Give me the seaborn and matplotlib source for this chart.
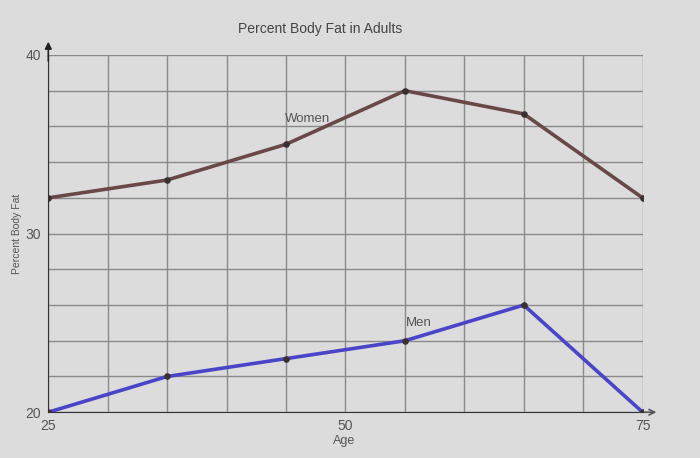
import matplotlib
matplotlib.use("Agg")
import matplotlib.pyplot as plt
import seaborn as sns
import pandas as pd

# data
ages = [25, 35, 45, 55, 65, 75]
women = [32, 33, 35, 38, 36.7, 32]
men = [20, 22, 23, 24, 26, 20]

x_ticks = [25, 50, 75]
y_ticks = [20, 30, 40]

df = pd.DataFrame({"Age": ages * 2,
                   "Fat": women + men,
                   "Group": ["Women"] * len(ages) + ["Men"] * len(ages)})

sns.set_style("white")
plt.rcParams['font.family'] = ['Liberation Sans', 'DejaVu Sans']

fig = plt.figure(figsize=(7, 4.58), dpi=100)
fig.patch.set_facecolor("#dcdcdc")
ax = fig.add_axes([0.069, 0.100, 0.849, 0.780])
ax.set_facecolor("#dcdcdc")

# grid every 5 years and every 2 percent
for gx in range(25, 80, 5):
    ax.axvline(gx, color="#8a8a8a", lw=1.0, zorder=0)
for gy in range(20, 42, 2):
    ax.axhline(gy, color="#8a8a8a", lw=1.0, zorder=0)

sns.lineplot(data=df, x="Age", y="Fat", hue="Group",
             palette={"Women": "#6a4848", "Men": "#4a44c8"},
             lw=2.6, legend=False, ax=ax, zorder=3)
ax.scatter(ages, women, s=14, color="#3a3030", zorder=4)
ax.scatter(ages, men, s=14, color="#3a3030", zorder=4)

ax.set_xlim(25, 75)
ax.set_ylim(20, 40)
ax.set_xticks(x_ticks)
ax.set_yticks(y_ticks)
ax.tick_params(axis="both", direction="inout", length=8, colors="#444444",
               labelsize=10, labelcolor="#555555", pad=1)
for s in ["top", "right"]:
    ax.spines[s].set_visible(False)
ax.spines["left"].set_color("#333333")
ax.spines["bottom"].set_color("#333333")

# axis arrows
ax.annotate("", xy=(25, 40.9), xytext=(25, 39.5),
            arrowprops=dict(arrowstyle="-|>", color="#222222", lw=1.2),
            annotation_clip=False)
ax.annotate("", xy=(76.4, 20), xytext=(74.5, 20),
            arrowprops=dict(arrowstyle="->", color="#555555", lw=1.2),
            annotation_clip=False)

ax.text(46.8, 36.4, "Women", fontsize=9.5, color="#555555", ha="center", va="center")
ax.text(56.2, 25.0, "Men", fontsize=9.5, color="#555555", ha="center", va="center")

ax.set_xlabel("")
ax.set_ylabel("")
fig.text(0.457, 0.937, "Percent Body Fat in Adults", fontsize=10, color="#444444",
         ha="center", va="center")
fig.text(0.491, 0.037, "Age", fontsize=9, color="#555555", ha="center", va="center")
fig.text(0.024, 0.49, "Percent Body Fat", fontsize=7.5, color="#555555",
         rotation=90, ha="center", va="center")

fig.savefig("out.png", dpi=100, facecolor=fig.get_facecolor())
